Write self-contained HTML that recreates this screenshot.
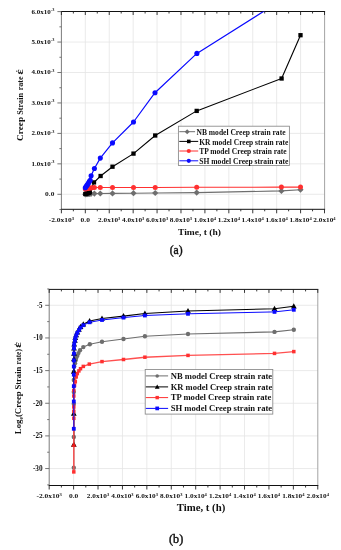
<!DOCTYPE html>
<html><head><meta charset="utf-8"><title>Creep strain rate</title>
<style>html,body{margin:0;padding:0;background:#fff;}svg{display:block;}</style></head>
<body><svg width="341" height="550" viewBox="0 0 341 550">
<rect width="341" height="550" fill="#fff"/>
<g stroke="#e4e4e4" stroke-width="0.8"><line x1="85.32" y1="11.5" x2="85.32" y2="209.3"/><line x1="109.24" y1="11.5" x2="109.24" y2="209.3"/><line x1="133.16" y1="11.5" x2="133.16" y2="209.3"/><line x1="157.07" y1="11.5" x2="157.07" y2="209.3"/><line x1="180.99" y1="11.5" x2="180.99" y2="209.3"/><line x1="204.91" y1="11.5" x2="204.91" y2="209.3"/><line x1="228.83" y1="11.5" x2="228.83" y2="209.3"/><line x1="252.75" y1="11.5" x2="252.75" y2="209.3"/><line x1="276.66" y1="11.5" x2="276.66" y2="209.3"/><line x1="300.58" y1="11.5" x2="300.58" y2="209.3"/><line x1="61.4" y1="194.3" x2="324.6" y2="194.3"/><line x1="61.4" y1="163.85" x2="324.6" y2="163.85"/><line x1="61.4" y1="133.4" x2="324.6" y2="133.4"/><line x1="61.4" y1="102.95" x2="324.6" y2="102.95"/><line x1="61.4" y1="72.5" x2="324.6" y2="72.5"/><line x1="61.4" y1="42.05" x2="324.6" y2="42.05"/></g>
<line x1="324.6" y1="11.5" x2="324.6" y2="209.3" stroke="#999" stroke-width="0.9"/>
<line x1="61.4" y1="11.5" x2="61.4" y2="209.3" stroke="#7c7c7c" stroke-width="1"/>
<line x1="60.9" y1="209.3" x2="325.1" y2="209.3" stroke="#111" stroke-width="1"/>
<line x1="60.9" y1="11.5" x2="325.1" y2="11.5" stroke="#111" stroke-width="1"/>
<g stroke="#222" stroke-width="0.9"><line x1="61.4" y1="209.3" x2="61.4" y2="213.3"/><line x1="61.4" y1="11.5" x2="61.4" y2="15"/><line x1="73.36" y1="209.3" x2="73.36" y2="211.3"/><line x1="73.36" y1="11.5" x2="73.36" y2="13.5"/><line x1="85.32" y1="209.3" x2="85.32" y2="213.3"/><line x1="85.32" y1="11.5" x2="85.32" y2="15"/><line x1="97.28" y1="209.3" x2="97.28" y2="211.3"/><line x1="97.28" y1="11.5" x2="97.28" y2="13.5"/><line x1="109.24" y1="209.3" x2="109.24" y2="213.3"/><line x1="109.24" y1="11.5" x2="109.24" y2="15"/><line x1="121.2" y1="209.3" x2="121.2" y2="211.3"/><line x1="121.2" y1="11.5" x2="121.2" y2="13.5"/><line x1="133.16" y1="209.3" x2="133.16" y2="213.3"/><line x1="133.16" y1="11.5" x2="133.16" y2="15"/><line x1="145.11" y1="209.3" x2="145.11" y2="211.3"/><line x1="145.11" y1="11.5" x2="145.11" y2="13.5"/><line x1="157.07" y1="209.3" x2="157.07" y2="213.3"/><line x1="157.07" y1="11.5" x2="157.07" y2="15"/><line x1="169.03" y1="209.3" x2="169.03" y2="211.3"/><line x1="169.03" y1="11.5" x2="169.03" y2="13.5"/><line x1="180.99" y1="209.3" x2="180.99" y2="213.3"/><line x1="180.99" y1="11.5" x2="180.99" y2="15"/><line x1="192.95" y1="209.3" x2="192.95" y2="211.3"/><line x1="192.95" y1="11.5" x2="192.95" y2="13.5"/><line x1="204.91" y1="209.3" x2="204.91" y2="213.3"/><line x1="204.91" y1="11.5" x2="204.91" y2="15"/><line x1="216.87" y1="209.3" x2="216.87" y2="211.3"/><line x1="216.87" y1="11.5" x2="216.87" y2="13.5"/><line x1="228.83" y1="209.3" x2="228.83" y2="213.3"/><line x1="228.83" y1="11.5" x2="228.83" y2="15"/><line x1="240.79" y1="209.3" x2="240.79" y2="211.3"/><line x1="240.79" y1="11.5" x2="240.79" y2="13.5"/><line x1="252.75" y1="209.3" x2="252.75" y2="213.3"/><line x1="252.75" y1="11.5" x2="252.75" y2="15"/><line x1="264.7" y1="209.3" x2="264.7" y2="211.3"/><line x1="264.7" y1="11.5" x2="264.7" y2="13.5"/><line x1="276.66" y1="209.3" x2="276.66" y2="213.3"/><line x1="276.66" y1="11.5" x2="276.66" y2="15"/><line x1="288.62" y1="209.3" x2="288.62" y2="211.3"/><line x1="288.62" y1="11.5" x2="288.62" y2="13.5"/><line x1="300.58" y1="209.3" x2="300.58" y2="213.3"/><line x1="300.58" y1="11.5" x2="300.58" y2="15"/><line x1="312.54" y1="209.3" x2="312.54" y2="211.3"/><line x1="312.54" y1="11.5" x2="312.54" y2="13.5"/><line x1="324.5" y1="209.3" x2="324.5" y2="213.3"/><line x1="324.5" y1="11.5" x2="324.5" y2="15"/></g>
<g stroke="#666" stroke-width="0.9"><line x1="57.4" y1="194.3" x2="61.4" y2="194.3"/><line x1="57.4" y1="163.85" x2="61.4" y2="163.85"/><line x1="57.4" y1="133.4" x2="61.4" y2="133.4"/><line x1="57.4" y1="102.95" x2="61.4" y2="102.95"/><line x1="57.4" y1="72.5" x2="61.4" y2="72.5"/><line x1="57.4" y1="42.05" x2="61.4" y2="42.05"/><line x1="57.4" y1="11.6" x2="61.4" y2="11.6"/><line x1="59.4" y1="209.53" x2="61.4" y2="209.53"/><line x1="59.4" y1="179.08" x2="61.4" y2="179.08"/><line x1="59.4" y1="148.62" x2="61.4" y2="148.62"/><line x1="59.4" y1="118.18" x2="61.4" y2="118.18"/><line x1="59.4" y1="87.73" x2="61.4" y2="87.73"/><line x1="59.4" y1="57.28" x2="61.4" y2="57.28"/><line x1="59.4" y1="26.83" x2="61.4" y2="26.83"/></g>
<g font-family='"Liberation Serif", "DejaVu Serif", serif' font-weight="bold" font-size="6.8" fill="#111"><text x="61.4" y="222.3" text-anchor="middle" textLength="25.5" lengthAdjust="spacingAndGlyphs">-2.0x10<tspan font-size="4.22" dy="-2.5">3</tspan></text><text x="85.32" y="222.3" text-anchor="middle" textLength="9.4" lengthAdjust="spacingAndGlyphs">0.0</text><text x="109.24" y="222.3" text-anchor="middle" textLength="22.3" lengthAdjust="spacingAndGlyphs">2.0x10<tspan font-size="4.22" dy="-2.5">3</tspan></text><text x="133.16" y="222.3" text-anchor="middle" textLength="22.3" lengthAdjust="spacingAndGlyphs">4.0x10<tspan font-size="4.22" dy="-2.5">3</tspan></text><text x="157.07" y="222.3" text-anchor="middle" textLength="22.3" lengthAdjust="spacingAndGlyphs">6.0x10<tspan font-size="4.22" dy="-2.5">3</tspan></text><text x="180.99" y="222.3" text-anchor="middle" textLength="22.3" lengthAdjust="spacingAndGlyphs">8.0x10<tspan font-size="4.22" dy="-2.5">3</tspan></text><text x="204.91" y="222.3" text-anchor="middle" textLength="22.3" lengthAdjust="spacingAndGlyphs">1.0x10<tspan font-size="4.22" dy="-2.5">4</tspan></text><text x="228.83" y="222.3" text-anchor="middle" textLength="22.3" lengthAdjust="spacingAndGlyphs">1.2x10<tspan font-size="4.22" dy="-2.5">4</tspan></text><text x="252.75" y="222.3" text-anchor="middle" textLength="22.3" lengthAdjust="spacingAndGlyphs">1.4x10<tspan font-size="4.22" dy="-2.5">4</tspan></text><text x="276.66" y="222.3" text-anchor="middle" textLength="22.3" lengthAdjust="spacingAndGlyphs">1.6x10<tspan font-size="4.22" dy="-2.5">4</tspan></text><text x="300.58" y="222.3" text-anchor="middle" textLength="22.3" lengthAdjust="spacingAndGlyphs">1.8x10<tspan font-size="4.22" dy="-2.5">4</tspan></text><text x="324.5" y="222.3" text-anchor="middle" textLength="22.3" lengthAdjust="spacingAndGlyphs">2.0x10<tspan font-size="4.22" dy="-2.5">4</tspan></text><text x="54.4" y="196.2" font-size="6.8" text-anchor="end" textLength="9.3" lengthAdjust="spacingAndGlyphs">0.0</text><text x="54.4" y="165.75" font-size="6.8" text-anchor="end" textLength="23" lengthAdjust="spacingAndGlyphs">1.0x10<tspan font-size="4.22" dy="-2.5">-3</tspan></text><text x="54.4" y="135.3" font-size="6.8" text-anchor="end" textLength="23" lengthAdjust="spacingAndGlyphs">2.0x10<tspan font-size="4.22" dy="-2.5">-3</tspan></text><text x="54.4" y="104.85" font-size="6.8" text-anchor="end" textLength="23" lengthAdjust="spacingAndGlyphs">3.0x10<tspan font-size="4.22" dy="-2.5">-3</tspan></text><text x="54.4" y="74.4" font-size="6.8" text-anchor="end" textLength="23" lengthAdjust="spacingAndGlyphs">4.0x10<tspan font-size="4.22" dy="-2.5">-3</tspan></text><text x="54.4" y="43.95" font-size="6.8" text-anchor="end" textLength="23" lengthAdjust="spacingAndGlyphs">5.0x10<tspan font-size="4.22" dy="-2.5">-3</tspan></text><text x="54.4" y="13.5" font-size="6.8" text-anchor="end" textLength="23" lengthAdjust="spacingAndGlyphs">6.0x10<tspan font-size="4.22" dy="-2.5">-3</tspan></text></g>
<defs><clipPath id="c1"><rect x="61.4" y="11.5" width="263.2" height="197.8"/></clipPath><clipPath id="c2"><rect x="49.2" y="289.4" width="268.6" height="196.1"/></clipPath></defs>
<g><path d="M85.3 194.3 L86.3 194.2 L87.3 194.1 L88.3 194 L89.5 193.9 L91 193.8 L94.4 193.6 L100.3 193.5 L112.5 193.4 L133.5 193.2 L155.2 193 L196.7 192.6 L281.4 190.9 L300.5 189.7" fill="none" stroke="#6e6e6e" stroke-width="1.1" stroke-linejoin="round"/><path d="M85.3 191.2L88.4 194.3L85.3 197.4L82.2 194.3Z" fill="#6e6e6e"/><path d="M86.3 191.1L89.4 194.2L86.3 197.3L83.2 194.2Z" fill="#6e6e6e"/><path d="M87.3 191L90.4 194.1L87.3 197.2L84.2 194.1Z" fill="#6e6e6e"/><path d="M88.3 190.9L91.4 194L88.3 197.1L85.2 194Z" fill="#6e6e6e"/><path d="M89.5 190.8L92.6 193.9L89.5 197L86.4 193.9Z" fill="#6e6e6e"/><path d="M91 190.7L94.1 193.8L91 196.9L87.9 193.8Z" fill="#6e6e6e"/><path d="M94.4 190.5L97.5 193.6L94.4 196.7L91.3 193.6Z" fill="#6e6e6e"/><path d="M100.3 190.4L103.4 193.5L100.3 196.6L97.2 193.5Z" fill="#6e6e6e"/><path d="M112.5 190.3L115.6 193.4L112.5 196.5L109.4 193.4Z" fill="#6e6e6e"/><path d="M133.5 190.1L136.6 193.2L133.5 196.3L130.4 193.2Z" fill="#6e6e6e"/><path d="M155.2 189.9L158.3 193L155.2 196.1L152.1 193Z" fill="#6e6e6e"/><path d="M196.7 189.5L199.8 192.6L196.7 195.7L193.6 192.6Z" fill="#6e6e6e"/><path d="M281.4 187.8L284.5 190.9L281.4 194L278.3 190.9Z" fill="#6e6e6e"/><path d="M300.5 186.6L303.6 189.7L300.5 192.8L297.4 189.7Z" fill="#6e6e6e"/></g>
<g><path d="M85.3 194 L86.2 193.7 L87.1 193.4 L88 193.1 L88.9 192.7 L89.8 192.3 L94 182.4 L100.6 176 L112.5 166.7 L133.5 153.6 L155.2 135.5 L196.7 110.9 L281.6 78.5 L300.5 35.2" fill="none" stroke="#000" stroke-width="1.1" stroke-linejoin="round"/><rect x="83.15" y="191.85" width="4.3" height="4.3" fill="#000"/><rect x="84.05" y="191.55" width="4.3" height="4.3" fill="#000"/><rect x="84.95" y="191.25" width="4.3" height="4.3" fill="#000"/><rect x="85.85" y="190.95" width="4.3" height="4.3" fill="#000"/><rect x="86.75" y="190.55" width="4.3" height="4.3" fill="#000"/><rect x="87.65" y="190.15" width="4.3" height="4.3" fill="#000"/><rect x="91.85" y="180.25" width="4.3" height="4.3" fill="#000"/><rect x="98.45" y="173.85" width="4.3" height="4.3" fill="#000"/><rect x="110.35" y="164.55" width="4.3" height="4.3" fill="#000"/><rect x="131.35" y="151.45" width="4.3" height="4.3" fill="#000"/><rect x="153.05" y="133.35" width="4.3" height="4.3" fill="#000"/><rect x="194.55" y="108.75" width="4.3" height="4.3" fill="#000"/><rect x="279.45" y="76.35" width="4.3" height="4.3" fill="#000"/><rect x="298.35" y="33.05" width="4.3" height="4.3" fill="#000"/></g>
<g><path d="M85.3 188.9 L86.3 188.7 L87.3 188.5 L88.3 188.3 L89.3 188.1 L90.5 187.9 L92 187.7 L94.4 187.5 L100.3 187.5 L112.5 187.5 L133.5 187.5 L155.2 187.4 L196.7 187.3 L281.4 187.1 L300.5 187.1" fill="none" stroke="#ff3030" stroke-width="1.05" stroke-linejoin="round"/><circle cx="85.3" cy="188.9" r="2.5" fill="#ff3030"/><circle cx="86.3" cy="188.7" r="2.5" fill="#ff3030"/><circle cx="87.3" cy="188.5" r="2.5" fill="#ff3030"/><circle cx="88.3" cy="188.3" r="2.5" fill="#ff3030"/><circle cx="89.3" cy="188.1" r="2.5" fill="#ff3030"/><circle cx="90.5" cy="187.9" r="2.5" fill="#ff3030"/><circle cx="92" cy="187.7" r="2.5" fill="#ff3030"/><circle cx="94.4" cy="187.5" r="2.5" fill="#ff3030"/><circle cx="100.3" cy="187.5" r="2.5" fill="#ff3030"/><circle cx="112.5" cy="187.5" r="2.5" fill="#ff3030"/><circle cx="133.5" cy="187.5" r="2.5" fill="#ff3030"/><circle cx="155.2" cy="187.4" r="2.5" fill="#ff3030"/><circle cx="196.7" cy="187.3" r="2.5" fill="#ff3030"/><circle cx="281.4" cy="187.1" r="2.5" fill="#ff3030"/><circle cx="300.5" cy="187.1" r="2.5" fill="#ff3030"/></g>
<g clip-path="url(#c1)"><path d="M85.3 187.7 L86.1 186.6 L86.9 185.4 L87.7 184.2 L88.5 183 L89.3 181.6 L90.2 180.2 L91.1 175.8 L94.4 168.5 L100.3 158.1 L112.5 142.9 L133.5 122 L155 92.7 L196.9 53.4 L282.3 -0.4" fill="none" stroke="#0a0aff" stroke-width="1.2" stroke-linejoin="round"/><circle cx="85.3" cy="187.7" r="2.55" fill="#0a0aff"/><circle cx="86.1" cy="186.6" r="2.55" fill="#0a0aff"/><circle cx="86.9" cy="185.4" r="2.55" fill="#0a0aff"/><circle cx="87.7" cy="184.2" r="2.55" fill="#0a0aff"/><circle cx="88.5" cy="183" r="2.55" fill="#0a0aff"/><circle cx="89.3" cy="181.6" r="2.55" fill="#0a0aff"/><circle cx="90.2" cy="180.2" r="2.55" fill="#0a0aff"/><circle cx="91.1" cy="175.8" r="2.55" fill="#0a0aff"/><circle cx="94.4" cy="168.5" r="2.55" fill="#0a0aff"/><circle cx="100.3" cy="158.1" r="2.55" fill="#0a0aff"/><circle cx="112.5" cy="142.9" r="2.55" fill="#0a0aff"/><circle cx="133.5" cy="122" r="2.55" fill="#0a0aff"/><circle cx="155" cy="92.7" r="2.55" fill="#0a0aff"/><circle cx="196.9" cy="53.4" r="2.55" fill="#0a0aff"/><circle cx="282.3" cy="-0.4" r="2.55" fill="#0a0aff"/></g>
<rect x="178.4" y="126.2" width="111" height="39.3" fill="#fff" stroke="#888" stroke-width="0.85"/>
<g font-family='"Liberation Serif", "DejaVu Serif", serif' font-weight="bold" font-size="7.3" fill="#111"><line x1="179.3" y1="131.7" x2="195.1" y2="131.7" stroke="#6e6e6e" stroke-width="1"/><path d="M187.2 129.2L189.7 131.7L187.2 134.2L184.7 131.7Z" fill="#6e6e6e"/><text x="196.5" y="134.98" textLength="89" lengthAdjust="spacingAndGlyphs">NB model Creep strain rate</text><line x1="179.3" y1="141.4" x2="198.2" y2="141.4" stroke="#000" stroke-width="1"/><rect x="187" y="139.6" width="3.6" height="3.6" fill="#000"/><text x="199.3" y="144.68" textLength="89.1" lengthAdjust="spacingAndGlyphs">KR model Creep strain rate</text><line x1="179.3" y1="151" x2="198.2" y2="151" stroke="#ff3030" stroke-width="1"/><circle cx="188.8" cy="151" r="2.1" fill="#ff3030"/><text x="199.3" y="154.28" textLength="87.3" lengthAdjust="spacingAndGlyphs">TP model Creep strain rate</text><line x1="179.3" y1="160.8" x2="198.2" y2="160.8" stroke="#0a0aff" stroke-width="1"/><circle cx="188.8" cy="160.8" r="2.1" fill="#0a0aff"/><text x="199.3" y="164.08" textLength="89.1" lengthAdjust="spacingAndGlyphs">SH model Creep strain rate</text></g>
<text x="199.5" y="234.9" text-anchor="middle" textLength="43" lengthAdjust="spacingAndGlyphs" font-family='"Liberation Serif", "DejaVu Serif", serif' font-weight="bold" font-size="9" fill="#111">Time, t (h)</text>
<text x="176.2" y="254.4" text-anchor="middle" textLength="13" lengthAdjust="spacingAndGlyphs" stroke="#111" stroke-width="0.4" font-family='"Liberation Serif", "DejaVu Serif", serif' font-size="12" fill="#111">(a)</text>
<text transform="translate(22.8 140.9) rotate(-90)" textLength="24" lengthAdjust="spacingAndGlyphs" font-family='"Liberation Serif", "DejaVu Serif", serif' font-weight="bold" font-size="9" fill="#111">Creep</text>
<text transform="translate(22.8 114.8) rotate(-90)" textLength="21.8" lengthAdjust="spacingAndGlyphs" font-family='"Liberation Serif", "DejaVu Serif", serif' font-weight="bold" font-size="9" fill="#111">Strain</text>
<text transform="translate(22.8 90.3) rotate(-90)" textLength="14" lengthAdjust="spacingAndGlyphs" font-family='"Liberation Serif", "DejaVu Serif", serif' font-weight="bold" font-size="9" fill="#111">rate</text>
<text transform="translate(22.8 74.4) rotate(-90)" textLength="5.2" lengthAdjust="spacingAndGlyphs" font-family='"Liberation Serif", "DejaVu Serif", serif' font-weight="bold" font-size="10.5" fill="#111">ε</text>
<circle cx="16.8" cy="71.2" r="0.6" fill="#111"/>
<g stroke="#e4e4e4" stroke-width="0.8"><line x1="73.6" y1="289.4" x2="73.6" y2="485.5"/><line x1="98.02" y1="289.4" x2="98.02" y2="485.5"/><line x1="122.44" y1="289.4" x2="122.44" y2="485.5"/><line x1="146.85" y1="289.4" x2="146.85" y2="485.5"/><line x1="171.27" y1="289.4" x2="171.27" y2="485.5"/><line x1="195.69" y1="289.4" x2="195.69" y2="485.5"/><line x1="220.11" y1="289.4" x2="220.11" y2="485.5"/><line x1="244.53" y1="289.4" x2="244.53" y2="485.5"/><line x1="268.94" y1="289.4" x2="268.94" y2="485.5"/><line x1="293.36" y1="289.4" x2="293.36" y2="485.5"/><line x1="49.2" y1="305.3" x2="317.8" y2="305.3"/><line x1="49.2" y1="337.95" x2="317.8" y2="337.95"/><line x1="49.2" y1="370.6" x2="317.8" y2="370.6"/><line x1="49.2" y1="403.25" x2="317.8" y2="403.25"/><line x1="49.2" y1="435.9" x2="317.8" y2="435.9"/><line x1="49.2" y1="468.55" x2="317.8" y2="468.55"/></g>
<line x1="317.8" y1="289.4" x2="317.8" y2="485.5" stroke="#999" stroke-width="0.9"/>
<line x1="49.2" y1="289.4" x2="49.2" y2="485.5" stroke="#7c7c7c" stroke-width="1"/>
<line x1="48.7" y1="485.5" x2="318.3" y2="485.5" stroke="#111" stroke-width="1"/>
<line x1="48.7" y1="289.4" x2="318.3" y2="289.4" stroke="#111" stroke-width="1"/>
<g stroke="#222" stroke-width="0.9"><line x1="49.18" y1="485.5" x2="49.18" y2="489.5"/><line x1="49.18" y1="289.4" x2="49.18" y2="292.9"/><line x1="61.39" y1="485.5" x2="61.39" y2="487.5"/><line x1="61.39" y1="289.4" x2="61.39" y2="291.4"/><line x1="73.6" y1="485.5" x2="73.6" y2="489.5"/><line x1="73.6" y1="289.4" x2="73.6" y2="292.9"/><line x1="85.81" y1="485.5" x2="85.81" y2="487.5"/><line x1="85.81" y1="289.4" x2="85.81" y2="291.4"/><line x1="98.02" y1="485.5" x2="98.02" y2="489.5"/><line x1="98.02" y1="289.4" x2="98.02" y2="292.9"/><line x1="110.23" y1="485.5" x2="110.23" y2="487.5"/><line x1="110.23" y1="289.4" x2="110.23" y2="291.4"/><line x1="122.44" y1="485.5" x2="122.44" y2="489.5"/><line x1="122.44" y1="289.4" x2="122.44" y2="292.9"/><line x1="134.64" y1="485.5" x2="134.64" y2="487.5"/><line x1="134.64" y1="289.4" x2="134.64" y2="291.4"/><line x1="146.85" y1="485.5" x2="146.85" y2="489.5"/><line x1="146.85" y1="289.4" x2="146.85" y2="292.9"/><line x1="159.06" y1="485.5" x2="159.06" y2="487.5"/><line x1="159.06" y1="289.4" x2="159.06" y2="291.4"/><line x1="171.27" y1="485.5" x2="171.27" y2="489.5"/><line x1="171.27" y1="289.4" x2="171.27" y2="292.9"/><line x1="183.48" y1="485.5" x2="183.48" y2="487.5"/><line x1="183.48" y1="289.4" x2="183.48" y2="291.4"/><line x1="195.69" y1="485.5" x2="195.69" y2="489.5"/><line x1="195.69" y1="289.4" x2="195.69" y2="292.9"/><line x1="207.9" y1="485.5" x2="207.9" y2="487.5"/><line x1="207.9" y1="289.4" x2="207.9" y2="291.4"/><line x1="220.11" y1="485.5" x2="220.11" y2="489.5"/><line x1="220.11" y1="289.4" x2="220.11" y2="292.9"/><line x1="232.32" y1="485.5" x2="232.32" y2="487.5"/><line x1="232.32" y1="289.4" x2="232.32" y2="291.4"/><line x1="244.53" y1="485.5" x2="244.53" y2="489.5"/><line x1="244.53" y1="289.4" x2="244.53" y2="292.9"/><line x1="256.74" y1="485.5" x2="256.74" y2="487.5"/><line x1="256.74" y1="289.4" x2="256.74" y2="291.4"/><line x1="268.94" y1="485.5" x2="268.94" y2="489.5"/><line x1="268.94" y1="289.4" x2="268.94" y2="292.9"/><line x1="281.15" y1="485.5" x2="281.15" y2="487.5"/><line x1="281.15" y1="289.4" x2="281.15" y2="291.4"/><line x1="293.36" y1="485.5" x2="293.36" y2="489.5"/><line x1="293.36" y1="289.4" x2="293.36" y2="292.9"/><line x1="305.57" y1="485.5" x2="305.57" y2="487.5"/><line x1="305.57" y1="289.4" x2="305.57" y2="291.4"/><line x1="317.78" y1="485.5" x2="317.78" y2="489.5"/><line x1="317.78" y1="289.4" x2="317.78" y2="292.9"/></g>
<g stroke="#666" stroke-width="0.9"><line x1="45.2" y1="305.3" x2="49.2" y2="305.3"/><line x1="45.2" y1="337.95" x2="49.2" y2="337.95"/><line x1="45.2" y1="370.6" x2="49.2" y2="370.6"/><line x1="45.2" y1="403.25" x2="49.2" y2="403.25"/><line x1="45.2" y1="435.9" x2="49.2" y2="435.9"/><line x1="45.2" y1="468.55" x2="49.2" y2="468.55"/><line x1="47.2" y1="288.98" x2="49.2" y2="288.98"/><line x1="47.2" y1="321.62" x2="49.2" y2="321.62"/><line x1="47.2" y1="354.28" x2="49.2" y2="354.28"/><line x1="47.2" y1="386.93" x2="49.2" y2="386.93"/><line x1="47.2" y1="419.58" x2="49.2" y2="419.58"/><line x1="47.2" y1="452.23" x2="49.2" y2="452.23"/><line x1="47.2" y1="484.88" x2="49.2" y2="484.88"/></g>
<g font-family='"Liberation Serif", "DejaVu Serif", serif' font-weight="bold" font-size="6.8" fill="#111"><text x="49.18" y="498" text-anchor="middle" textLength="25.5" lengthAdjust="spacingAndGlyphs">-2.0x10<tspan font-size="4.22" dy="-2.5">3</tspan></text><text x="73.6" y="498" text-anchor="middle" textLength="9.4" lengthAdjust="spacingAndGlyphs">0.0</text><text x="98.02" y="498" text-anchor="middle" textLength="22.3" lengthAdjust="spacingAndGlyphs">2.0x10<tspan font-size="4.22" dy="-2.5">3</tspan></text><text x="122.44" y="498" text-anchor="middle" textLength="22.3" lengthAdjust="spacingAndGlyphs">4.0x10<tspan font-size="4.22" dy="-2.5">3</tspan></text><text x="146.85" y="498" text-anchor="middle" textLength="22.3" lengthAdjust="spacingAndGlyphs">6.0x10<tspan font-size="4.22" dy="-2.5">3</tspan></text><text x="171.27" y="498" text-anchor="middle" textLength="22.3" lengthAdjust="spacingAndGlyphs">8.0x10<tspan font-size="4.22" dy="-2.5">3</tspan></text><text x="195.69" y="498" text-anchor="middle" textLength="22.3" lengthAdjust="spacingAndGlyphs">1.0x10<tspan font-size="4.22" dy="-2.5">4</tspan></text><text x="220.11" y="498" text-anchor="middle" textLength="22.3" lengthAdjust="spacingAndGlyphs">1.2x10<tspan font-size="4.22" dy="-2.5">4</tspan></text><text x="244.53" y="498" text-anchor="middle" textLength="22.3" lengthAdjust="spacingAndGlyphs">1.4x10<tspan font-size="4.22" dy="-2.5">4</tspan></text><text x="268.94" y="498" text-anchor="middle" textLength="22.3" lengthAdjust="spacingAndGlyphs">1.6x10<tspan font-size="4.22" dy="-2.5">4</tspan></text><text x="293.36" y="498" text-anchor="middle" textLength="22.3" lengthAdjust="spacingAndGlyphs">1.8x10<tspan font-size="4.22" dy="-2.5">4</tspan></text><text x="317.78" y="498" text-anchor="middle" textLength="22.3" lengthAdjust="spacingAndGlyphs">2.0x10<tspan font-size="4.22" dy="-2.5">4</tspan></text><text x="42.6" y="307.8" font-size="7.2" text-anchor="end" textLength="5.8" lengthAdjust="spacingAndGlyphs">-5</text><text x="42.6" y="340.45" font-size="7.2" text-anchor="end" textLength="9.2" lengthAdjust="spacingAndGlyphs">-10</text><text x="42.6" y="373.1" font-size="7.2" text-anchor="end" textLength="9.2" lengthAdjust="spacingAndGlyphs">-15</text><text x="42.6" y="405.75" font-size="7.2" text-anchor="end" textLength="9.6" lengthAdjust="spacingAndGlyphs">-20</text><text x="42.6" y="438.4" font-size="7.2" text-anchor="end" textLength="9.6" lengthAdjust="spacingAndGlyphs">-25</text><text x="42.6" y="471.05" font-size="7.2" text-anchor="end" textLength="9.7" lengthAdjust="spacingAndGlyphs">-30</text></g>
<g><path d="M73.8 467.8 L73.8 437 L73.8 404 L73.8 392 L73.8 380 L73.9 372 L74.2 366.5 L75 363.2 L75.6 360.2 L76.2 358 L77.3 355.8 L78.4 353.1 L80 350.3 L83.3 347.1 L89.8 344.3 L102 341.7 L123.5 339 L144.9 336.3 L188 334 L274.5 331.9 L293.8 329.8" fill="none" stroke="#6e6e6e" stroke-width="1.1" stroke-linejoin="round"/><circle cx="73.8" cy="467.8" r="2.2" fill="#6e6e6e"/><circle cx="73.8" cy="437" r="2.2" fill="#6e6e6e"/><circle cx="73.8" cy="404" r="2.2" fill="#6e6e6e"/><circle cx="73.8" cy="392" r="2.2" fill="#6e6e6e"/><circle cx="73.8" cy="380" r="2.2" fill="#6e6e6e"/><circle cx="73.9" cy="372" r="2.2" fill="#6e6e6e"/><circle cx="74.2" cy="366.5" r="2.2" fill="#6e6e6e"/><circle cx="75" cy="363.2" r="2.2" fill="#6e6e6e"/><circle cx="75.6" cy="360.2" r="2.2" fill="#6e6e6e"/><circle cx="76.2" cy="358" r="2.2" fill="#6e6e6e"/><circle cx="77.3" cy="355.8" r="2.2" fill="#6e6e6e"/><circle cx="78.4" cy="353.1" r="2.2" fill="#6e6e6e"/><circle cx="80" cy="350.3" r="2.2" fill="#6e6e6e"/><circle cx="83.3" cy="347.1" r="2.2" fill="#6e6e6e"/><circle cx="89.8" cy="344.3" r="2.2" fill="#6e6e6e"/><circle cx="102" cy="341.7" r="2.2" fill="#6e6e6e"/><circle cx="123.5" cy="339" r="2.2" fill="#6e6e6e"/><circle cx="144.9" cy="336.3" r="2.2" fill="#6e6e6e"/><circle cx="188" cy="334" r="2.2" fill="#6e6e6e"/><circle cx="274.5" cy="331.9" r="2.2" fill="#6e6e6e"/><circle cx="293.8" cy="329.8" r="2.2" fill="#6e6e6e"/></g>
<g><path d="M73.8 444.6 L73.8 413.5 L73.8 371.5 L73.9 359.1 L74 353.6 L74 348.2 L74.2 344.4 L74.9 340.5 L75.3 337.8 L76.2 335.1 L77.3 332.4 L78.9 329.6 L80.5 326.9 L83.3 324.2 L89.6 321 L102 318.5 L123.5 316.1 L144.9 313.5 L188 311 L274.5 308.7 L293.8 306.2" fill="none" stroke="#000" stroke-width="1.1" stroke-linejoin="round"/><path d="M73.8 441.56L76.7 446.78L70.9 446.78Z" fill="#000"/><path d="M73.8 410.45L76.7 415.68L70.9 415.68Z" fill="#000"/><path d="M73.8 368.45L76.7 373.68L70.9 373.68Z" fill="#000"/><path d="M73.9 356.06L76.8 361.28L71 361.28Z" fill="#000"/><path d="M74 350.56L76.9 355.78L71.1 355.78Z" fill="#000"/><path d="M74 345.15L76.9 350.38L71.1 350.38Z" fill="#000"/><path d="M74.2 341.35L77.1 346.57L71.3 346.57Z" fill="#000"/><path d="M74.9 337.45L77.8 342.68L72 342.68Z" fill="#000"/><path d="M75.3 334.75L78.2 339.98L72.4 339.98Z" fill="#000"/><path d="M76.2 332.06L79.1 337.28L73.3 337.28Z" fill="#000"/><path d="M77.3 329.35L80.2 334.57L74.4 334.57Z" fill="#000"/><path d="M78.9 326.56L81.8 331.78L76 331.78Z" fill="#000"/><path d="M80.5 323.85L83.4 329.07L77.6 329.07Z" fill="#000"/><path d="M83.3 321.15L86.2 326.38L80.4 326.38Z" fill="#000"/><path d="M89.6 317.95L92.5 323.18L86.7 323.18Z" fill="#000"/><path d="M102 315.45L104.9 320.68L99.1 320.68Z" fill="#000"/><path d="M123.5 313.06L126.4 318.28L120.6 318.28Z" fill="#000"/><path d="M144.9 310.45L147.8 315.68L142 315.68Z" fill="#000"/><path d="M188 307.95L190.9 313.18L185.1 313.18Z" fill="#000"/><path d="M274.5 305.65L277.4 310.88L271.6 310.88Z" fill="#000"/><path d="M293.8 303.15L296.7 308.38L290.9 308.38Z" fill="#000"/></g>
<g><path d="M73.8 471.9 L73.8 418.3 L73.8 411.3 L73.8 407 L73.8 396 L73.8 390.5 L74.5 385.5 L75.3 381.8 L76.2 376.9 L77.3 373.6 L78.9 370.9 L80.5 368.7 L83.3 366.4 L89.3 364.1 L102 361.6 L123.5 359.5 L144.9 357.2 L188 355.4 L274.5 353.4 L293.8 351.6" fill="none" stroke="#ff5050" stroke-width="1.4" stroke-linejoin="round"/><rect x="72.05" y="470.15" width="3.5" height="3.5" fill="#ff3030"/><rect x="72.05" y="416.55" width="3.5" height="3.5" fill="#ff3030"/><rect x="72.05" y="409.55" width="3.5" height="3.5" fill="#ff3030"/><rect x="72.05" y="405.25" width="3.5" height="3.5" fill="#ff3030"/><rect x="72.05" y="394.25" width="3.5" height="3.5" fill="#ff3030"/><rect x="72.05" y="388.75" width="3.5" height="3.5" fill="#ff3030"/><rect x="72.75" y="383.75" width="3.5" height="3.5" fill="#ff3030"/><rect x="73.55" y="380.05" width="3.5" height="3.5" fill="#ff3030"/><rect x="74.45" y="375.15" width="3.5" height="3.5" fill="#ff3030"/><rect x="75.55" y="371.85" width="3.5" height="3.5" fill="#ff3030"/><rect x="77.15" y="369.15" width="3.5" height="3.5" fill="#ff3030"/><rect x="78.75" y="366.95" width="3.5" height="3.5" fill="#ff3030"/><rect x="81.55" y="364.65" width="3.5" height="3.5" fill="#ff3030"/><rect x="87.55" y="362.35" width="3.5" height="3.5" fill="#ff3030"/><rect x="100.25" y="359.85" width="3.5" height="3.5" fill="#ff3030"/><rect x="121.75" y="357.75" width="3.5" height="3.5" fill="#ff3030"/><rect x="143.15" y="355.45" width="3.5" height="3.5" fill="#ff3030"/><rect x="186.25" y="353.65" width="3.5" height="3.5" fill="#ff3030"/><rect x="272.75" y="351.65" width="3.5" height="3.5" fill="#ff3030"/><rect x="292.05" y="349.85" width="3.5" height="3.5" fill="#ff3030"/></g>
<path d="M73.8 442.27L76.3 446.77L71.3 446.77Z" fill="#f01818"/>
<g><path d="M73.8 428.8 L73.8 401.5 L73.8 386.2 L73.8 374.7 L73.8 366.5 L73.9 360.5 L74 353.6 L74 348.2 L74.2 344.4 L74.9 340.8 L75.3 338.2 L76.2 335.5 L77.3 332.8 L78.9 330.2 L80.5 327.6 L83.3 325.2 L89.6 322.3 L102 320 L123.5 317.6 L144.9 315.5 L188 313.8 L274.5 311.9 L293.8 309.8" fill="none" stroke="#0a0aff" stroke-width="1.0" stroke-linejoin="round"/><rect x="71.9" y="426.9" width="3.8" height="3.8" fill="#0a0aff"/><rect x="71.9" y="399.6" width="3.8" height="3.8" fill="#0a0aff"/><rect x="71.9" y="384.3" width="3.8" height="3.8" fill="#0a0aff"/><rect x="71.9" y="372.8" width="3.8" height="3.8" fill="#0a0aff"/><rect x="71.9" y="364.6" width="3.8" height="3.8" fill="#0a0aff"/><rect x="72" y="358.6" width="3.8" height="3.8" fill="#0a0aff"/><rect x="72.1" y="351.7" width="3.8" height="3.8" fill="#0a0aff"/><rect x="72.1" y="346.3" width="3.8" height="3.8" fill="#0a0aff"/><rect x="72.3" y="342.5" width="3.8" height="3.8" fill="#0a0aff"/><rect x="73" y="338.9" width="3.8" height="3.8" fill="#0a0aff"/><rect x="73.4" y="336.3" width="3.8" height="3.8" fill="#0a0aff"/><rect x="74.3" y="333.6" width="3.8" height="3.8" fill="#0a0aff"/><rect x="75.4" y="330.9" width="3.8" height="3.8" fill="#0a0aff"/><rect x="77" y="328.3" width="3.8" height="3.8" fill="#0a0aff"/><rect x="78.6" y="325.7" width="3.8" height="3.8" fill="#0a0aff"/><rect x="81.4" y="323.3" width="3.8" height="3.8" fill="#0a0aff"/><rect x="87.7" y="320.4" width="3.8" height="3.8" fill="#0a0aff"/><rect x="100.1" y="318.1" width="3.8" height="3.8" fill="#0a0aff"/><rect x="121.6" y="315.7" width="3.8" height="3.8" fill="#0a0aff"/><rect x="143" y="313.6" width="3.8" height="3.8" fill="#0a0aff"/><rect x="186.1" y="311.9" width="3.8" height="3.8" fill="#0a0aff"/><rect x="272.6" y="310" width="3.8" height="3.8" fill="#0a0aff"/><rect x="291.9" y="307.9" width="3.8" height="3.8" fill="#0a0aff"/></g>
<rect x="145.2" y="369.5" width="127.6" height="44.6" fill="#fff" stroke="#888" stroke-width="0.85"/>
<g font-family='"Liberation Serif", "DejaVu Serif", serif' font-weight="bold" font-size="8.2" fill="#111"><line x1="145.8" y1="375.9" x2="168.1" y2="375.9" stroke="#6e6e6e" stroke-width="1"/><circle cx="157.2" cy="375.9" r="1.75" fill="#6e6e6e"/><text x="170.7" y="378.69" textLength="101.5" lengthAdjust="spacingAndGlyphs">NB model Creep strain rate</text><line x1="145.8" y1="386.9" x2="168.1" y2="386.9" stroke="#000" stroke-width="1"/><path d="M157.2 384.38L159.6 388.7L154.8 388.7Z" fill="#000"/><text x="170.7" y="389.69" textLength="101.5" lengthAdjust="spacingAndGlyphs">KR model Creep strain rate</text><line x1="145.8" y1="397.6" x2="168.1" y2="397.6" stroke="#ff3030" stroke-width="1"/><rect x="155.5" y="395.9" width="3.4" height="3.4" fill="#ff3030"/><text x="170.7" y="400.39" textLength="100.6" lengthAdjust="spacingAndGlyphs">TP model Creep strain rate</text><line x1="145.8" y1="408.4" x2="168.1" y2="408.4" stroke="#0a0aff" stroke-width="1"/><rect x="155.35" y="406.55" width="3.7" height="3.7" fill="#0a0aff"/><text x="170.7" y="411.19" textLength="101.5" lengthAdjust="spacingAndGlyphs">SH model Creep strain rate</text></g>
<text x="201" y="511.2" text-anchor="middle" textLength="48.6" lengthAdjust="spacingAndGlyphs" font-family='"Liberation Serif", "DejaVu Serif", serif' font-weight="bold" font-size="9.6" fill="#111">Time, t (h)</text>
<text x="176.1" y="542.6" text-anchor="middle" textLength="14.2" lengthAdjust="spacingAndGlyphs" stroke="#111" stroke-width="0.4" font-family='"Liberation Serif", "DejaVu Serif", serif' font-size="11.5" fill="#111">(b)</text>
<text transform="translate(21.2 434.2) rotate(-90)" textLength="42.9" lengthAdjust="spacingAndGlyphs" font-family='"Liberation Serif", "DejaVu Serif", serif' font-weight="bold" font-size="9" fill="#111">Log<tspan font-size="5.5" dy="1.8">e</tspan><tspan dy="-1.8">(Creep</tspan></text>
<text transform="translate(21.2 389.6) rotate(-90)" textLength="22.9" lengthAdjust="spacingAndGlyphs" font-family='"Liberation Serif", "DejaVu Serif", serif' font-weight="bold" font-size="9" fill="#111">Strain</text>
<text transform="translate(21.2 364.4) rotate(-90)" textLength="15.3" lengthAdjust="spacingAndGlyphs" font-family='"Liberation Serif", "DejaVu Serif", serif' font-weight="bold" font-size="9" fill="#111">rate)</text>
<text transform="translate(21.2 347.8) rotate(-90)" textLength="5.6" lengthAdjust="spacingAndGlyphs" font-family='"Liberation Serif", "DejaVu Serif", serif' font-weight="bold" font-size="10.5" fill="#111">ε</text>
<circle cx="15.2" cy="344.6" r="0.6" fill="#111"/>
</svg></body></html>
